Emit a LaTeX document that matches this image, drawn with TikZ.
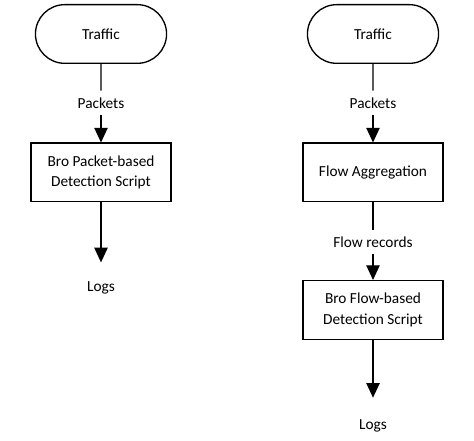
\documentclass[tikz,border=0pt]{standalone}
\usepackage{fontspec}
\setmainfont{Carlito}
\usetikzlibrary{shapes.misc,arrows.meta}

\tikzset{
  terminal/.style={draw,rounded rectangle,line width=1pt,minimum width=105pt,minimum height=44pt},
  process/.style={draw,rectangle,line width=1pt,minimum width=105pt,minimum height=44pt,align=center},
  flowlabel/.style={inner xsep=2pt,inner ysep=5pt},
  flow/.style={line width=1pt},
  flowarrow/.style={flow,-{Triangle[width=10pt,length=11pt]}}
}

\begin{document}
\begin{tikzpicture}[x=0.75pt,y=-0.75pt,font=\fontsize{11.5}{15.5}\selectfont]
	\useasboundingbox (0,0) rectangle (474,441);

		%Packet-based
		\node[terminal] (trafficA) at (101,34) {Traffic};
		\node[flowlabel] (packetsA) at (101,103) {Packets};
		\node[process] (detectA) at (101,172.5) {Bro Packet-based\\Detection Script};
		\node (logsA) at (101,288) {Logs};

		\draw[flow] (trafficA) -- (packetsA);
		\draw[flowarrow] (packetsA) -- (detectA);
		\draw[flowarrow,shorten >=11pt] (detectA) -- (logsA);

		%Flow-based
		\node[terminal] (trafficB) at (373,34) {Traffic};
		\node[flowlabel] (packetsB) at (373,103) {Packets};
		\node[process] (aggregB) at (373,172.5) {Flow Aggregation};
		\node[flowlabel] (recordsB) at (373,242) {Flow records};
		\node[process] (detectB) at (373,310) {Bro Flow-based\\Detection Script};
		\node (logsB) at (373,426) {Logs};

		\draw[flow] (trafficB) -- (packetsB);
		\draw[flowarrow] (packetsB) -- (aggregB);
		\draw[flow] (aggregB) -- (recordsB);
		\draw[flowarrow] (recordsB) -- (detectB);
		\draw[flowarrow,shorten >=13pt] (detectB) -- (logsB);
\end{tikzpicture}
\end{document}
